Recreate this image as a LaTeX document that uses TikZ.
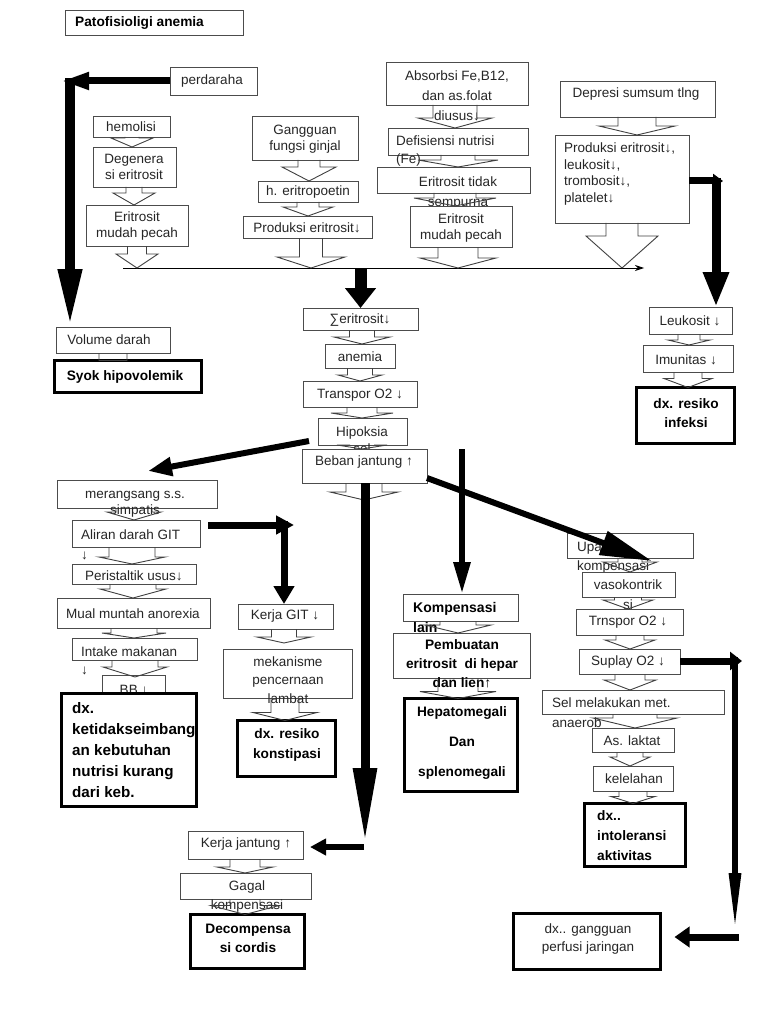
\documentclass[tikz,border=0pt]{standalone}
\usepackage{fontspec}
\setmainfont{Liberation Sans}
\usetikzlibrary{arrows.meta,calc}
\newcommand\nf{\fontsize{13.5}{16.5}\selectfont}
\newcommand\bfn{\bfseries\fontsize{13.7}{19}\selectfont}
\newcommand\bx[6][box]{\node[#1, minimum width={(#4-#2)*1pt}, minimum height={(#5-#3)*1pt}] (#6) at ({(#2+#4)/2},{(#3+#5)/2}) {};}
% from, to, x, shaft half, head half, head length, tip offset
\newcommand\harrow[7]{\draw[harr] let \p1=(#1.south), \p2=(#2.north) in
 ({#3pt-#4pt},\y1) -- ({#3pt-#4pt},{\y2-(#7)*1pt+(#6)*1pt}) -- ({#3pt-#5pt},{\y2-(#7)*1pt+(#6)*1pt}) -- (#3pt,{\y2-(#7)*1pt}) -- ({#3pt+#5pt},{\y2-(#7)*1pt+(#6)*1pt}) -- ({#3pt+#4pt},{\y2-(#7)*1pt+(#6)*1pt}) -- ({#3pt+#4pt},\y1);}
\begin{document}
\begin{tikzpicture}[x=1pt,y=-1pt,
 box/.style={draw=black!70, fill=white, line width=0.9pt, inner sep=0pt, outer sep=0pt},
 dx/.style={draw=black, fill=white, line width=3pt, inner sep=0pt, outer sep=0pt},
 t/.style={font=\nf, align=center, inner sep=0pt, text=black!85},
 tb/.style={font=\bfn, align=center, inner sep=0pt, text=black},
 harr/.style={draw=black!75, line width=0.9pt, line join=miter},
 pt/.style={inner sep=0pt, minimum size=0pt, outer sep=0pt}]
\fill[white] (0,0) rectangle (768,1024);
\useasboundingbox (0,0) rectangle (768,1024);

% ---------- top area
\bx{65}{10}{243}{35}{title}
\node[tb,anchor=west] (title-t) at (75,22.5) {Patofisioligi anemia};
\bx{170}{67}{257}{95}{perd}
\node[t] at (212,81) {perdaraha};
\bx{93}{116}{170}{137}{hemo}
\node[t] at (131,126.5) {hemolisi};
\bx{93}{147}{176}{187}{deg}
\node[t] at (134,167) {Degenera\\si eritrosit};
\bx{86}{205}{188}{246}{empa}
\node[t] at (137,226) {Eritrosit\\mudah pecah};
\bx{252}{116}{358}{160}{gg}
\node[t] at (305,139) {Gangguan\\fungsi ginjal};
\bx{258}{181}{358}{202}{heri}
\node[t] at (308,192) {h. eritropoetin};
\bx{243}{216}{372}{238}{proda}
\node[t] at (307,227.5) {Produksi eritrosit↓};
\bx{386}{62}{528}{105}{abs}
\node[t, font=\fontsize{13.5}{20}\selectfont] at (457,96) {Absorbsi Fe,B12,\\dan as.folat\\diusus↓};
\bx{388}{128}{528}{155}{def}
\node[t, align=left, anchor=west, font=\fontsize{13.5}{18}\selectfont] at (396,151) {Defisiensi nutrisi\\(Fe)};
\bx{377}{167}{530}{193}{etid}
\node[t, font=\fontsize{13.5}{20}\selectfont] at (458,193) {Eritrosit tidak\\sempurna};
\bx{410}{206}{512}{247}{empb}
\node[t] at (461,228) {Eritrosit\\mudah pecah};
\bx{560}{81}{715}{117}{dep}
\node[t] at (636,94) {Depresi sumsum tlng};
\bx{555}{135}{689}{223}{prodb}
\node[t, align=left, anchor=west] at (564,174) {Produksi eritrosit↓,\\leukosit↓,\\trombosit↓,\\platelet↓};

% horizontal collecting line
\node[pt] (hl0) at (123,268) {};
\node[pt] (hl1) at (644,268) {};
\node[pt] (la) at (137,268) {};
\node[pt] (lb) at (311,268) {};
\node[pt] (lc) at (458,268) {};
\node[pt] (ld) at (622,268) {};
\draw[line width=0.9pt, -{Stealth[length=9pt,width=6pt]}] (hl0) -- (hl1);

% ---------- left: volume
\bx{56}{327}{170}{353}{vol}
\node[t] at (109,340) {Volume darah};

% ---------- center chain
\bx{303}{308}{418}{330}{sum}
\node[t] at (360,320) {∑eritrosit↓};
\bx{325}{344}{395}{368}{anem}
\node[t] at (360,357) {anemia};
\bx{303}{381}{417}{407}{trans}
\node[t] at (360,395) {Transpor O2 ↓};
\bx{318}{418}{407}{445}{hip}
\node[t, anchor=north] at (362,427) {Hipoksia\\sel};
\bx{302}{449}{427}{483}{beban}
\node[t] at (364,462) {Beban jantung ↑};

% ---------- right: leukosit
\bx{649}{307}{732}{334}{leuk}
\node[t] at (690,321) {Leukosit ↓};
\bx{643}{345}{733}{372}{imun}
\node[t] at (686,359.5) {Imunitas ↓};

% ---------- left lower
\bx{57}{480}{217}{508}{mer}
\node[t, font=\fontsize{13.5}{15.5}\selectfont] at (135,504.5) {merangsang s.s.\\simpatis};
\bx{72}{520}{200}{547}{ali}
\node[t, align=left, anchor=west, font=\fontsize{13.5}{20}\selectfont] at (81,545) {Aliran darah GIT\\↓};
\bx{72}{564}{196}{584}{peri}
\node[t] at (134,575.5) {Peristaltik usus↓};
\bx{57}{598}{210}{628}{mual}
\node[t] at (133,613.5) {Mual muntah anorexia};
\bx{72}{638}{197}{660}{intk}
\node[t, align=left, anchor=west, font=\fontsize{13.5}{18}\selectfont] at (81,661) {Intake makanan\\↓};
\bx{102}{675}{165}{692}{bb}
\node[t] at (134,690) {BB ↓};

\bx{238}{604}{333}{629}{kgit}
\node[t] at (285,616.5) {Kerja GIT ↓};
\bx{223}{649}{352}{698}{mek}
\node[t, font=\fontsize{13.5}{18.5}\selectfont] at (288,680) {mekanisme\\pencernaan\\lambat};

% ---------- middle lower
\bx{403}{594}{518}{621}{komp}
\node[tb, align=left, anchor=west, font=\bfseries\fontsize{14}{20}\selectfont] at (413,617) {Kompensasi\\lain};
\bx{393}{633}{530}{678}{pemb}
\node[tb] at (462,664) {Pembuatan\\eritrosit\ \ di hepar\\dan lien↑};

% ---------- right lower
\bx{567}{533}{693}{558}{upa}
\node[t, align=left, anchor=west, font=\fontsize{13.5}{18.5}\selectfont] at (577,558) {Upaya\\kompensasi};
\bx{582}{572}{675}{597}{vaso}
\node[t, font=\fontsize{13.5}{20}\selectfont] at (628,595) {vasokontrik\\si};
\bx{576}{609}{683}{635}{trn}
\node[t] at (628,622) {Trnspor O2 ↓};
\bx{579}{649}{680}{674}{supl}
\node[t] at (628,662) {Suplay O2 ↓};
\bx{542}{690}{724}{714}{sel}
\node[t, align=left, anchor=west, font=\fontsize{13.5}{20}\selectfont] at (552,713) {Sel melakukan met.\\anaerob};
\bx{592}{728}{674}{752}{lakt}
\node[t] at (632,741) {As. laktat};
\bx{593}{766}{673}{791}{lel}
\node[t] at (634,779) {kelelahan};

% ---------- bottom
\bx{188}{831}{303}{859}{kj}
\node[t] at (246,844) {Kerja jantung ↑};
\bx{180}{873}{311}{899}{gagal}
\node[t, font=\fontsize{13.5}{19}\selectfont] at (247,896.5) {Gagal\\kompensasi};

% ---------- diagnosis boxes
\bx[dx]{54.5}{360.5}{201.5}{392.5}{syok}
\node[tb] at (125,376.5) {Syok hipovolemik};
\bx[dx]{636.5}{387.5}{734.5}{443.5}{inf}
\node[tb] at (686,413) {dx. resiko\\infeksi};
\bx[dx]{61.5}{693.5}{196.5}{806.5}{nutr}
\node[tb, align=left, anchor=west, font=\bfseries\fontsize{15.2}{21}\selectfont] at (72,750) {dx.\\ketidakseimbang\\an kebutuhan\\nutrisi kurang\\dari keb.};
\bx[dx]{237.5}{720.5}{335.5}{776.5}{kons}
\node[tb, font=\bfseries\fontsize{13.7}{20}\selectfont] at (287,745) {dx. resiko\\konstipasi};
\bx[dx]{404.5}{698.5}{517.5}{791.5}{hepa}
\node[tb, font=\bfseries\fontsize{13.7}{30}\selectfont] at (462,743) {Hepatomegali\\Dan\\splenomegali};
\bx[dx]{584.5}{803.5}{685.5}{866.5}{into}
\node[tb, align=left, anchor=west, font=\bfseries\fontsize{13.7}{20}\selectfont] at (597,836) {dx..\\intoleransi\\aktivitas};
\bx[dx]{190.5}{914.5}{304.5}{968.5}{deco}
\node[tb] at (248,938) {Decompensa\\si cordis};
\bx[dx]{513.5}{913.5}{660.5}{969.5}{perf}
\node[t, font=\fontsize{13.5}{18}\selectfont] at (588,939) {dx.. gangguan\\perfusi jaringan};

% ---------- hollow block arrows
\harrow{hemo}{deg}{132}{7}{21}{9}{0}
\harrow{deg}{empa}{134}{8}{21}{12}{0}
\harrow{empa}{la}{137}{9.5}{21}{14}{0}
\harrow{gg}{heri}{309}{11}{27}{14}{0}
\harrow{heri}{proda}{308}{11}{25}{9}{0}
\harrow{proda}{lb}{311}{11.5}{34}{11}{0}
\harrow{abs}{def}{455}{22}{37}{10}{0}
\harrow{def}{etid}{458}{17}{40}{7}{0}
\harrow{etid}{empb}{455}{21}{41}{8}{0}
\harrow{empb}{lc}{458}{20}{38}{10}{0}
\harrow{dep}{prodb}{637}{19}{38}{9}{0}
\harrow{prodb}{ld}{622}{16}{36}{32}{0}
\harrow{vol}{syok}{113}{14}{14}{0.01}{0}
\harrow{sum}{anem}{362}{12.5}{28}{7}{0}
\harrow{anem}{trans}{360}{12.5}{22}{6}{0}
\harrow{trans}{hip}{362}{15}{31}{5}{0}
\harrow{hip}{beban}{362}{12}{25}{4}{0}
\node[pt] (bend) at (364,500) {};
\harrow{beban}{bend}{364}{18}{34}{8}{0}
\harrow{leuk}{imun}{689}{11}{21}{5}{0}
\harrow{imun}{inf}{688}{14}{24}{9}{0}
\harrow{mer}{ali}{134}{18}{27}{8}{0}
\harrow{ali}{peri}{132}{23}{33}{7}{0}
\harrow{peri}{mual}{133}{23}{33}{9}{0}
\harrow{mual}{intk}{134}{23}{32}{5}{0}
\harrow{intk}{bb}{135}{23}{32}{10}{2}
\harrow{kgit}{mek}{284}{12.5}{27}{6}{-6}
\harrow{mek}{kons}{285}{14}{32}{8}{0}
\harrow{komp}{pemb}{458}{18}{33}{8}{0}
\harrow{pemb}{hepa}{458}{20}{38}{7}{0}
\harrow{upa}{vaso}{630}{12}{27}{10}{0}
\harrow{vaso}{trn}{628}{13.5}{25}{9}{0}
\harrow{trn}{supl}{630}{14}{25}{9}{0}
\harrow{supl}{sel}{630}{15}{26}{10}{0}
\harrow{sel}{lakt}{635}{22}{42}{10}{0}
\harrow{lakt}{lel}{630}{13}{20}{9}{0}
\harrow{lel}{into}{633}{14}{22}{7}{0}
\harrow{kj}{gagal}{245}{15}{28}{6}{0}
\harrow{gagal}{deco}{245}{15}{34}{9}{0}

% ---------- thick black arrows
\coordinate (pA) at (61,81);
\draw[line width=7pt, -{Triangle[length=28pt,width=16pt]}] (perd.west) -- (pA);
\coordinate (pB) at (70,78);
\draw[line width=10pt, -{Triangle[length=58pt,width=22pt]}] (pB) -- (pB |- vol.north);
\draw[line width=12pt, -{Triangle[length=20pt,width=30pt]}] (sum.north |- hl0) -- (sum.north);
\coordinate (pC) at (723,181);
\draw[line width=7pt, -{Triangle[length=10pt,width=14pt]}] (prodb.east |- pC) -- (pC);
\coordinate (pD) at (716,178);
\draw[line width=9pt, -{Triangle[length=35pt,width=24pt]}] (pD) -- (pD |- leuk.north);
\coordinate (pE) at (148,471);
\draw[line width=6pt, -{Triangle[length=24pt,width=18pt]}] ([xshift=-9pt,yshift=4pt]hip.south west) -- (pE);
\coordinate (pF) at (652,561);
\draw[line width=6pt, -{Triangle[length=52pt,width=24pt]}] ([yshift=5pt]beban.south east) -- (pF);
\coordinate (pG) at (462,449);
\draw[line width=6pt, -{Triangle[length=32pt,width=16pt]}] (pG) -- (pG |- komp.north);
\coordinate (pI) at (365,843);
\coordinate (pH) at (beban.south -| pI);
\draw[line width=9pt, -{Triangle[length=75pt,width=22pt]}] (pH) -- (pI);
\coordinate (pJ) at (364,847);
\draw[line width=6pt, -{Triangle[length=16pt,width=16pt]}] (pJ) -- ([xshift=7pt]kj.east |- pJ);
\coordinate (pK) at (208,525);
\coordinate (pL) at (294,525);
\draw[line width=7pt, -{Triangle[length=18pt,width=18pt]}] ([xshift=8pt]ali.east |- pK) -- (pL);
\coordinate (pM) at (284,521);
\draw[line width=7pt, -{Triangle[length=18pt,width=20pt]}] (pM) -- (pM |- kgit.north);
\coordinate (pN) at (742,661);
\draw[line width=7pt, -{Triangle[length=12pt,width=18pt]}] (supl.east |- pN) -- (pN);
\coordinate (pO) at (735,657);
\coordinate (pP) at (735,933);
\draw[line width=6pt, -{Triangle[length=60pt,width=11pt]}] (pO) -- (pP);
\coordinate (pQ) at (739,937);
\draw[line width=7pt, -{Triangle[length=15pt,width=20pt]}] (pQ) -- ([xshift=14pt]perf.east |- pQ);
\end{tikzpicture}
\end{document}
